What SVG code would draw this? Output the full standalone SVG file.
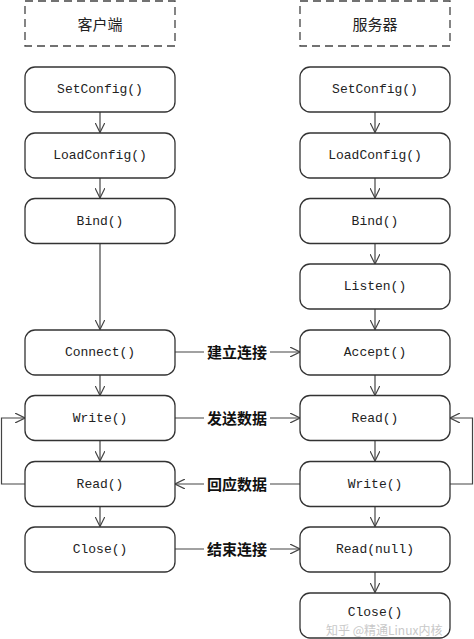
<svg xmlns="http://www.w3.org/2000/svg" width="474" height="639" viewBox="0 0 474 639">
<defs>
<style>
.hdr{fill:#fff;stroke:#444;stroke-width:1.3;stroke-dasharray:8,5}
.box{fill:#fff;stroke:#333;stroke-width:1.3}
.t{font-family:"Liberation Mono","DejaVu Sans Mono",monospace;font-size:13px;fill:#222;text-anchor:middle;dominant-baseline:central}
.h{font-family:"Noto Sans CJK SC",sans-serif;font-size:15px;fill:#222;text-anchor:middle;dominant-baseline:central}
.lbl{font-family:"Noto Sans CJK SC",sans-serif;font-size:15px;font-weight:bold;fill:#111;text-anchor:middle;dominant-baseline:central}
.c{fill:none;stroke:#444;stroke-width:1.2}
.wm{font-family:"Noto Sans CJK SC",sans-serif;font-size:12px;fill:#bbb;opacity:0.8}
</style>
<marker id="a" viewBox="0 0 10 10" refX="10" refY="5" markerWidth="10" markerHeight="10" markerUnits="userSpaceOnUse" orient="auto">
<path d="M0,0 L10,5 L0,10" fill="none" stroke="#444" stroke-width="1.2"/>
</marker>
</defs>
<rect width="474" height="639" fill="#fff"/>
<g id="connectors">
<line class="c" x1="100" y1="112" x2="100" y2="132.5" marker-end="url(#a)"/>
<line class="c" x1="100" y1="178" x2="100" y2="198" marker-end="url(#a)"/>
<line class="c" x1="100" y1="244" x2="100" y2="329.5" marker-end="url(#a)"/>
<line class="c" x1="100" y1="375" x2="100" y2="395.5" marker-end="url(#a)"/>
<line class="c" x1="100" y1="440.5" x2="100" y2="461" marker-end="url(#a)"/>
<line class="c" x1="100" y1="506.5" x2="100" y2="526.5" marker-end="url(#a)"/>
<line class="c" x1="375" y1="112" x2="375" y2="132.5" marker-end="url(#a)"/>
<line class="c" x1="375" y1="178" x2="375" y2="198" marker-end="url(#a)"/>
<line class="c" x1="375" y1="244" x2="375" y2="264" marker-end="url(#a)"/>
<line class="c" x1="375" y1="309" x2="375" y2="329.5" marker-end="url(#a)"/>
<line class="c" x1="375" y1="375" x2="375" y2="395.5" marker-end="url(#a)"/>
<line class="c" x1="375" y1="440.5" x2="375" y2="461" marker-end="url(#a)"/>
<line class="c" x1="375" y1="506.5" x2="375" y2="526.5" marker-end="url(#a)"/>
<line class="c" x1="375" y1="572" x2="375" y2="592.5" marker-end="url(#a)"/>
<line class="c" x1="175" y1="352" x2="300" y2="352" marker-end="url(#a)"/>
<line class="c" x1="175" y1="418" x2="300" y2="418" marker-end="url(#a)"/>
<line class="c" x1="300" y1="484" x2="175" y2="484" marker-end="url(#a)"/>
<line class="c" x1="175" y1="549" x2="300" y2="549" marker-end="url(#a)"/>
<polyline class="c" points="25,484 1.5,484 1.5,418 25,418" marker-end="url(#a)"/>
<polyline class="c" points="450,484 472.5,484 472.5,418 450,418" marker-end="url(#a)"/>
<rect x="204" y="342" width="66" height="20" fill="#fff"/>
<text class="lbl" x="237" y="351">建立连接</text>
<rect x="204" y="408" width="66" height="20" fill="#fff"/>
<text class="lbl" x="237" y="417">发送数据</text>
<rect x="204" y="474" width="66" height="20" fill="#fff"/>
<text class="lbl" x="237" y="483">回应数据</text>
<rect x="204" y="539" width="66" height="20" fill="#fff"/>
<text class="lbl" x="237" y="548">结束连接</text>
</g>
<g id="client-header"><rect class="hdr" x="25" y="1" width="150" height="45"/><text class="h" x="100" y="23.5">客户端</text></g>
<g id="server-header"><rect class="hdr" x="300" y="1" width="150" height="45"/><text class="h" x="375" y="23.5">服务器</text></g>
<g id="c-setconfig"><rect class="box" x="25" y="67" width="150" height="45" rx="10"/><text class="t" x="100" y="89.5">SetConfig()</text></g>
<g id="c-loadconfig"><rect class="box" x="25" y="133" width="150" height="45" rx="10"/><text class="t" x="100" y="155.5">LoadConfig()</text></g>
<g id="c-bind"><rect class="box" x="25" y="198.5" width="150" height="45" rx="10"/><text class="t" x="100" y="221">Bind()</text></g>
<g id="c-connect"><rect class="box" x="25" y="330" width="150" height="45" rx="10"/><text class="t" x="100" y="352.5">Connect()</text></g>
<g id="c-write"><rect class="box" x="25" y="395.5" width="150" height="45" rx="10"/><text class="t" x="100" y="418">Write()</text></g>
<g id="c-read"><rect class="box" x="25" y="461.5" width="150" height="45" rx="10"/><text class="t" x="100" y="484">Read()</text></g>
<g id="c-close"><rect class="box" x="25" y="527" width="150" height="45" rx="10"/><text class="t" x="100" y="549.5">Close()</text></g>
<g id="s-setconfig"><rect class="box" x="300" y="67" width="150" height="45" rx="10"/><text class="t" x="375" y="89.5">SetConfig()</text></g>
<g id="s-loadconfig"><rect class="box" x="300" y="133" width="150" height="45" rx="10"/><text class="t" x="375" y="155.5">LoadConfig()</text></g>
<g id="s-bind"><rect class="box" x="300" y="198.5" width="150" height="45" rx="10"/><text class="t" x="375" y="221">Bind()</text></g>
<g id="s-listen"><rect class="box" x="300" y="264" width="150" height="45" rx="10"/><text class="t" x="375" y="286.5">Listen()</text></g>
<g id="s-accept"><rect class="box" x="300" y="330" width="150" height="45" rx="10"/><text class="t" x="375" y="352.5">Accept()</text></g>
<g id="s-read"><rect class="box" x="300" y="395.5" width="150" height="45" rx="10"/><text class="t" x="375" y="418">Read()</text></g>
<g id="s-write"><rect class="box" x="300" y="461.5" width="150" height="45" rx="10"/><text class="t" x="375" y="484">Write()</text></g>
<g id="s-readnull"><rect class="box" x="300" y="527" width="150" height="45" rx="10"/><text class="t" x="375" y="549.5">Read(null)</text></g>
<g id="s-close"><rect class="box" x="300" y="593" width="150" height="45" rx="10"/><text class="t" x="375" y="612">Close()</text></g>
<text class="wm" x="326" y="635">知乎 @精通Linux内核</text>
</svg>
